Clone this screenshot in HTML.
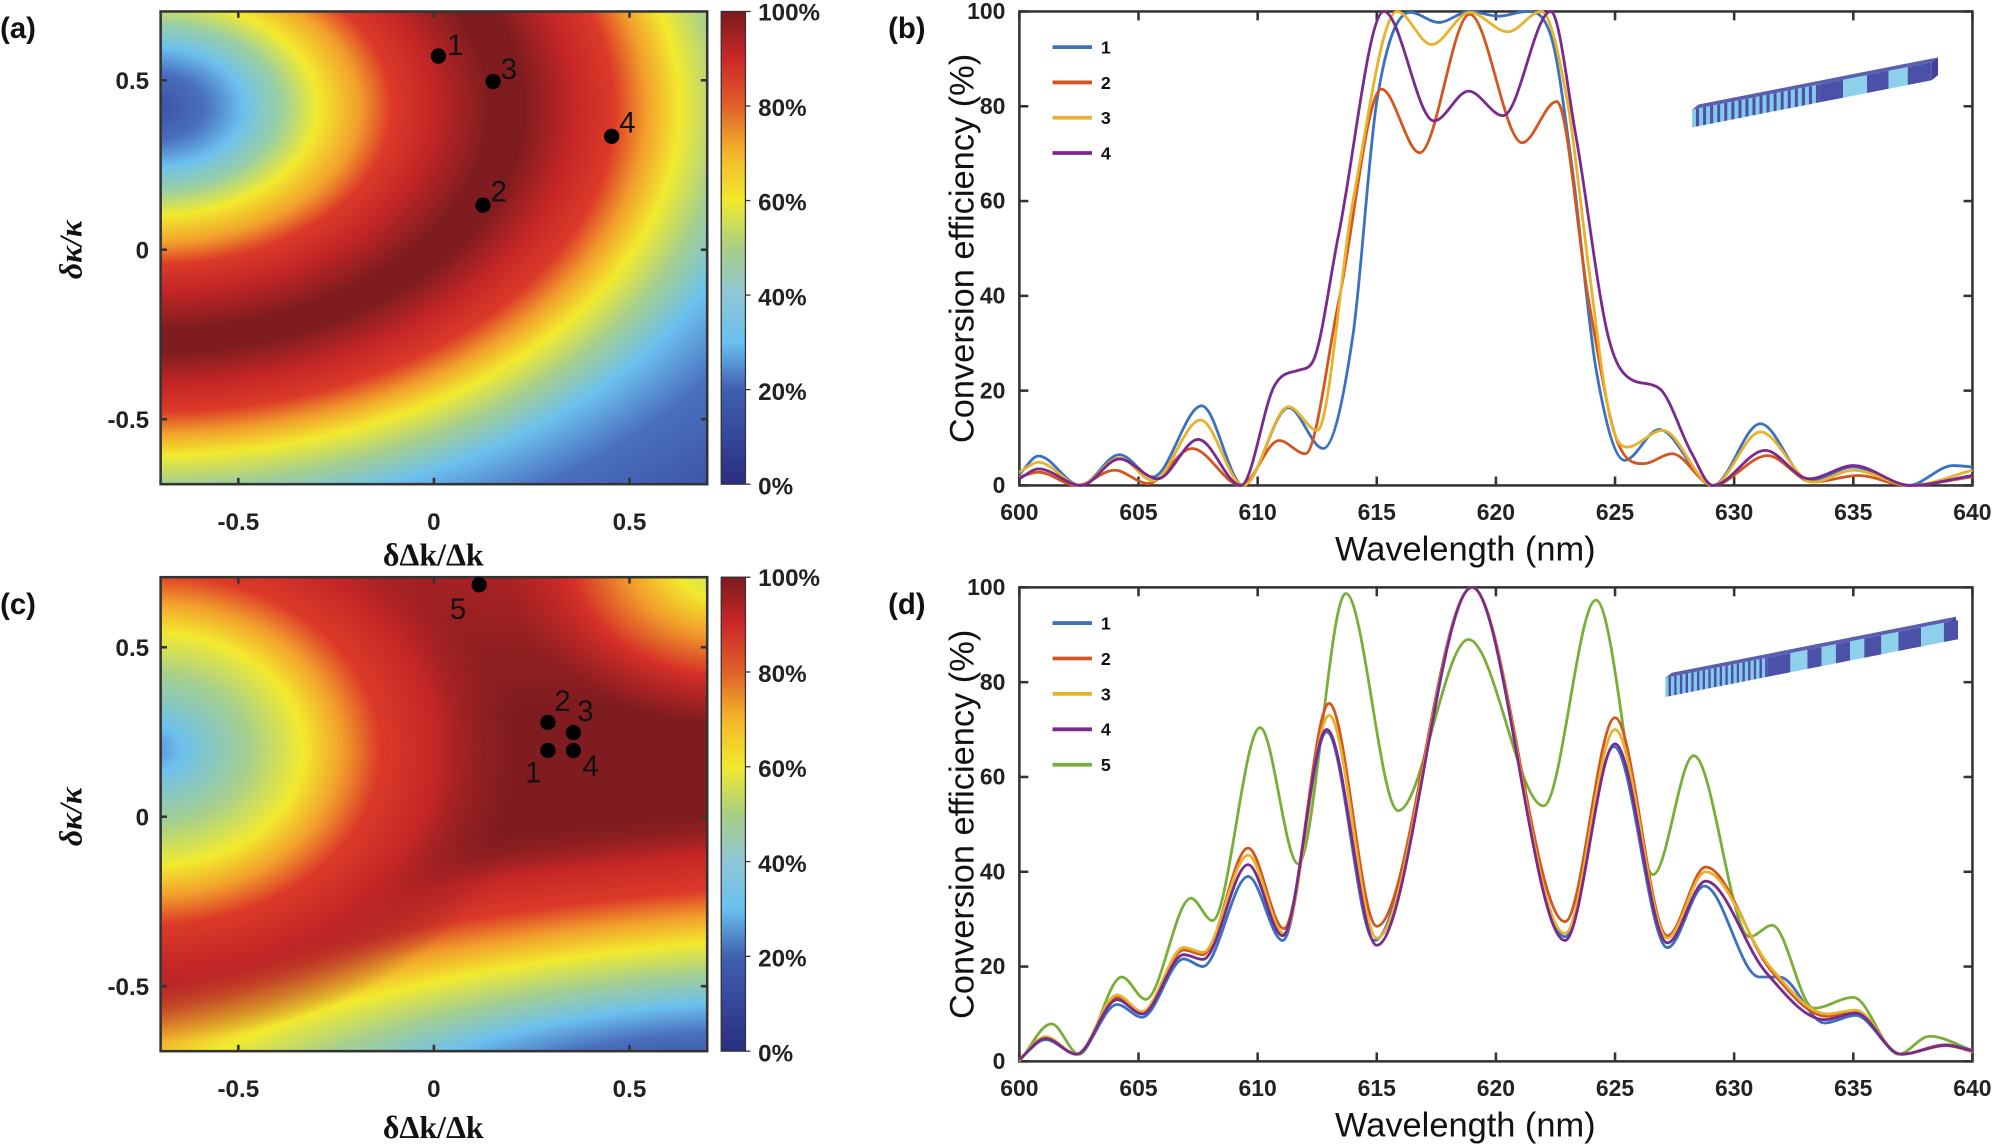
<!DOCTYPE html>
<html><head><meta charset="utf-8">
<style>
html,body{margin:0;padding:0;background:#fff;}
svg{display:block;}
.tk{font-family:"Liberation Sans",sans-serif;font-weight:bold;fill:#222;}
.al{font-family:"Liberation Sans",sans-serif;font-size:27px;fill:#111;}
.ml{font-family:"Liberation Serif",serif;font-weight:bold;font-size:25px;fill:#111;}
.pl{font-family:"Liberation Sans",sans-serif;font-weight:bold;font-size:23px;fill:#111;}
.lg{font-family:"Liberation Sans",sans-serif;font-weight:bold;font-size:14px;fill:#111;}
.mk{font-family:"Liberation Sans",sans-serif;font-size:23px;fill:#111;}
</style></head>
<body>
<svg id="s" width="1998" height="1148" viewBox="0 0 1568 901" xmlns="http://www.w3.org/2000/svg">
<defs>
<clipPath id="ca"><rect x="126" y="9" width="429" height="371"/></clipPath>
<clipPath id="cc"><rect x="126" y="453" width="429" height="372"/></clipPath>
<radialGradient id="ga" gradientUnits="userSpaceOnUse" cx="0" cy="0" r="1" gradientTransform="translate(120,84) scale(646,427)">
<stop offset="0" stop-color="#3a4fa3"/><stop offset="0.0625" stop-color="#4a6fbf"/>
<stop offset="0.11" stop-color="#6cc0ee"/><stop offset="0.156" stop-color="#9cd0a0"/>
<stop offset="0.2" stop-color="#f2ea2e"/><stop offset="0.25" stop-color="#f2a02c"/>
<stop offset="0.29" stop-color="#dc3a28"/><stop offset="0.34" stop-color="#c42626"/>
<stop offset="0.41" stop-color="#7e1c1f"/><stop offset="0.45" stop-color="#7e1c1f"/>
<stop offset="0.51" stop-color="#c42626"/><stop offset="0.56" stop-color="#dc3a28"/>
<stop offset="0.6" stop-color="#f2a02c"/><stop offset="0.64" stop-color="#f2ea2e"/>
<stop offset="0.69" stop-color="#a8d08c"/><stop offset="0.75" stop-color="#6cc0ee"/>
<stop offset="0.84" stop-color="#4a6fbf"/><stop offset="1" stop-color="#3a4fa3"/>
</radialGradient>
<radialGradient id="gc1" gradientUnits="userSpaceOnUse" cx="0" cy="0" r="1" gradientTransform="translate(118,588) scale(300,230)">
<stop offset="0" stop-color="#5a88cc"/><stop offset="0.08" stop-color="#6cc0ee"/>
<stop offset="0.26" stop-color="#a8d08c"/><stop offset="0.4" stop-color="#f2ea2e"/>
<stop offset="0.5" stop-color="#f2a02c"/><stop offset="0.6" stop-color="#dc3a28"/>
<stop offset="0.75" stop-color="#c42626"/><stop offset="1" stop-color="#7e1c1f" stop-opacity="0"/>
</radialGradient>
<radialGradient id="gc2" gradientUnits="userSpaceOnUse" cx="0" cy="0" r="1" gradientTransform="translate(520,842) rotate(-6) scale(860,205)">
<stop offset="0" stop-color="#3a4fa3"/><stop offset="0.14" stop-color="#4a6fbf"/>
<stop offset="0.25" stop-color="#6cc0ee"/><stop offset="0.37" stop-color="#a8d08c"/>
<stop offset="0.48" stop-color="#f2ea2e"/><stop offset="0.58" stop-color="#f2a02c"/>
<stop offset="0.68" stop-color="#dc3a28"/><stop offset="0.82" stop-color="#c42626"/>
<stop offset="1" stop-color="#7e1c1f" stop-opacity="0"/>
</radialGradient>
<radialGradient id="gc3" gradientUnits="userSpaceOnUse" cx="0" cy="0" r="1" gradientTransform="translate(575,440) scale(180,130)">
<stop offset="0" stop-color="#a8d08c"/><stop offset="0.25" stop-color="#f2ea2e"/>
<stop offset="0.45" stop-color="#f2a02c"/><stop offset="0.7" stop-color="#d63028"/>
<stop offset="1" stop-color="#c42626" stop-opacity="0"/>
</radialGradient>
<linearGradient id="gct" x1="0" y1="453" x2="0" y2="560" gradientUnits="userSpaceOnUse">
<stop offset="0" stop-color="#b42424" stop-opacity="0.8"/><stop offset="1" stop-color="#b42424" stop-opacity="0"/>
</linearGradient>
<linearGradient id="cb" x1="0" y1="1" x2="0" y2="0">
<stop offset="0" stop-color="#2a2e80"/><stop offset="0.2" stop-color="#4060b0"/>
<stop offset="0.3" stop-color="#69c0ee"/><stop offset="0.4" stop-color="#8fc6d8"/>
<stop offset="0.5" stop-color="#a8cf84"/><stop offset="0.6" stop-color="#f2e92d"/>
<stop offset="0.7" stop-color="#f3b62c"/><stop offset="0.8" stop-color="#e0602a"/>
<stop offset="0.9" stop-color="#cc2828"/><stop offset="1" stop-color="#7a1a1e"/>
</linearGradient>
</defs>

<g clip-path="url(#ca)"><rect x="126" y="9" width="429" height="371" fill="url(#ga)"/></g>
<rect x="126" y="9" width="429" height="371" fill="none" stroke="#333" stroke-width="2"/>
<g clip-path="url(#cc)">
<rect x="126" y="453" width="429" height="372" fill="#7e1c1f"/>
<rect x="126" y="453" width="429" height="372" fill="url(#gct)"/>
<rect x="126" y="453" width="429" height="372" fill="url(#gc2)"/>
<rect x="126" y="453" width="429" height="372" fill="url(#gc1)"/>
<rect x="126" y="453" width="429" height="372" fill="url(#gc3)"/>
</g>
<rect x="126" y="453" width="429" height="372" fill="none" stroke="#333" stroke-width="2"/>

<rect x="566" y="9" width="19" height="371" fill="url(#cb)" stroke="#333" stroke-width="1"/>
<rect x="566" y="453" width="19" height="372" fill="url(#cb)" stroke="#333" stroke-width="1"/>

<g id="ticks"></g>

<g fill="#000">
<circle cx="344" cy="44" r="6"/><circle cx="387" cy="64" r="6"/><circle cx="480" cy="107" r="6"/><circle cx="379" cy="161" r="6"/>
<circle cx="376" cy="459" r="6"/><circle cx="430" cy="567" r="6"/><circle cx="450" cy="575" r="6"/><circle cx="430" cy="589" r="6"/><circle cx="450" cy="589" r="6"/>
</g>
<text class="mk" x="351" y="43">1</text><text class="mk" x="393" y="62">3</text>
<text class="mk" x="486" y="104">4</text><text class="mk" x="385" y="158">2</text>
<text class="mk" x="353" y="486">5</text><text class="mk" x="435" y="558">2</text>
<text class="mk" x="453" y="566">3</text><text class="mk" x="412" y="614">1</text>
<text class="mk" x="457" y="609">4</text>

<text class="pl" x="0" y="30">(a)</text>
<text class="pl" x="0" y="482">(c)</text>
<text class="pl" x="697" y="30">(b)</text>
<text class="pl" x="697" y="482">(d)</text>

<text class="ml" x="340" y="444" text-anchor="middle">δΔk/Δk</text>
<text class="ml" x="340" y="893" text-anchor="middle">δΔk/Δk</text>
<text class="ml" transform="translate(64,196) rotate(-90)" text-anchor="middle" font-style="italic">δκ/κ</text>
<text class="ml" transform="translate(64,641) rotate(-90)" text-anchor="middle" font-style="italic">δκ/κ</text>

<rect x="800" y="9" width="748" height="372" fill="none" stroke="#333" stroke-width="2"/>
<rect x="800" y="461" width="748" height="372" fill="none" stroke="#333" stroke-width="2"/>
<text class="al" x="1150" y="440" text-anchor="middle">Wavelength (nm)</text>
<text class="al" x="1150" y="892" text-anchor="middle">Wavelength (nm)</text>
<text class="al" transform="translate(764,195) rotate(-90)" text-anchor="middle">Conversion efficiency (%)</text>
<text class="al" transform="translate(764,647) rotate(-90)" text-anchor="middle">Conversion efficiency (%)</text>

<g id="curves"></g>
<g id="bars"></g>
<g id="legend"></g>
</svg>
<script>
var NS="http://www.w3.org/2000/svg";
function el(p,t,a,txt){var e=document.createElementNS(NS,t);for(var k in a)e.setAttribute(k,a[k]);if(txt!=null)e.textContent=txt;document.getElementById(p).appendChild(e);return e;}
function hmTicks(top,bot,y0px){
  var xs=[[-0.5,187],[0,340.5],[0.5,494]];
  xs.forEach(function(v){el('ticks','line',{x1:v[1],y1:bot,x2:v[1],y2:bot-5,stroke:'#333','stroke-width':2});el('ticks','line',{x1:v[1],y1:top,x2:v[1],y2:top+5,stroke:'#333','stroke-width':2});
    el('ticks','text',{'class':'tk',x:v[1],y:bot+36,'text-anchor':'middle','font-size':19},v[0]);});
  [[0.5,y0px-133],[0,y0px],[-0.5,y0px+133]].forEach(function(v){el('ticks','line',{x1:126,y1:v[1],x2:131,y2:v[1],stroke:'#333','stroke-width':2});el('ticks','line',{x1:555,y1:v[1],x2:550,y2:v[1],stroke:'#333','stroke-width':2});
    el('ticks','text',{'class':'tk',x:117,y:v[1]+7,'text-anchor':'end','font-size':19},v[0]);});
  for(var i=0;i<=5;i++){var y=bot-(bot-top)*i/5;
    el('ticks','line',{x1:585,y1:y,x2:589,y2:y,stroke:'#333','stroke-width':1});
    el('ticks','text',{'class':'tk',x:595,y:y+8+(i==5?-1:0),'font-size':19},(i*20)+'%');}
}
hmTicks(9,380,196);hmTicks(453,825,641);
function lpTicks(top,bot){
  for(var i=0;i<=8;i++){var x=800+i*93.5;
    el('ticks','line',{x1:x,y1:bot,x2:x,y2:bot-7,stroke:'#333','stroke-width':2});
    el('ticks','line',{x1:x,y1:top,x2:x,y2:top+7,stroke:'#333','stroke-width':2});
    el('ticks','text',{'class':'tk',x:x,y:bot+27,'text-anchor':'middle','font-size':18},600+5*i);}
  for(var j=0;j<=5;j++){var y=bot-j*74.4;
    el('ticks','line',{x1:800,y1:y,x2:807,y2:y,stroke:'#333','stroke-width':2});
    el('ticks','line',{x1:1548,y1:y,x2:1541,y2:y,stroke:'#333','stroke-width':2});
    el('ticks','text',{'class':'tk',x:789,y:y+6,'text-anchor':'end','font-size':18},j*20);}
}
lpTicks(9,381);lpTicks(461,833);
function path(pts,bot){
  var n=pts.length,X=pts.map(function(p){return 800+(p[0]-600)*18.7;}),Y=pts.map(function(p){return bot-p[1]*3.72;});
  var d=[],m=[];for(var i=0;i<n-1;i++)d.push((Y[i+1]-Y[i])/(X[i+1]-X[i]));
  m[0]=d[0];m[n-1]=d[n-2];
  for(i=1;i<n-1;i++){m[i]=(d[i-1]*d[i]<=0)?0:(d[i-1]+d[i])/2;}
  for(i=0;i<n-1;i++){if(d[i]==0){m[i]=0;m[i+1]=0;continue;}var a=m[i]/d[i],b=m[i+1]/d[i],s=a*a+b*b;if(s>9){var t=3/Math.sqrt(s);m[i]=t*a*d[i];m[i+1]=t*b*d[i];}}
  var s='M'+X[0].toFixed(1)+','+Y[0].toFixed(1);
  for(i=0;i<n-1;i++){var h=(X[i+1]-X[i])/3;
    s+='C'+(X[i]+h).toFixed(1)+','+(Y[i]+m[i]*h).toFixed(1)+' '+(X[i+1]-h).toFixed(1)+','+(Y[i+1]-m[i+1]*h).toFixed(1)+' '+X[i+1].toFixed(1)+','+Y[i+1].toFixed(1);}
  return s;
}
var C={1:'#3a72c0',2:'#d4561f',3:'#e8b22c',4:'#7a2a8e',5:'#7aae3a'};
var B={
4:[[600,1.4],[600.8,3.5],[602.6,0],[604.2,5.6],[605.8,1.4],[607.5,9.7],[609.3,0],[610.7,21],[611.7,24.3],[612.3,26],[613.4,53],[615.3,100],[617.4,76.9],[618.85,83.2],[620.3,78],[622.3,100],[623.35,74],[624.7,31.7],[625.6,22.6],[626.85,20.5],[628.2,7],[629.1,0],[631.3,7.4],[633.15,1.4],[635,4.2],[637.4,0],[640,2.1]],
2:[[600,1.8],[600.8,2.8],[602.4,0],[604,3.2],[605.4,0.4],[607.25,7.8],[609.3,0],[610.9,9.5],[612,6.7],[613.4,38.8],[615.2,83.6],[616.8,70.2],[618.9,99.4],[621.1,72.3],[622.55,81],[623.9,38.8],[625.1,9.2],[626.2,4.6],[627.4,6.7],[629.1,0],[631.4,6.3],[633.3,0.7],[635.2,2.1],[637.3,0],[640,1.8]],
3:[[600,2.8],[600.8,4.9],[602.55,0],[604.2,5.8],[605.6,1],[607.6,13.8],[609.4,0],[611.3,16.6],[612.5,11.6],[614,60],[615.85,100],[617.3,93],[618.9,99.8],[620.5,95.7],[621.9,100],[623,81],[623.9,45.8],[624.8,14],[625.5,8.1],[627,11.6],[629.1,0],[631.1,11.3],[633.3,0.7],[635,3.2],[637.4,0],[640,3.2]],
1:[[600,2.3],[600.8,6.2],[602.55,0],[604.2,6.5],[605.6,1.8],[607.65,16.8],[609.4,0],[611.3,16.4],[612.75,7.8],[614,31.7],[615,81],[616.4,99.8],[617.6,97.7],[618.9,100],[620.1,99],[621.3,100],[622.3,95],[623.2,67],[624.2,24.7],[625.4,5.3],[626.85,11.8],[629.1,0],[631.1,13],[633.15,1],[635,3.9],[637.3,0],[639.2,4.2],[640,3.9]]
};
var D={
5:[[600,0],[601.35,7.9],[602.5,1.5],[604.3,17.8],[605.3,13.1],[607.2,34.4],[608.1,29.7],[610.1,70.4],[611.7,41.7],[613.7,98.7],[615.9,52.9],[618.85,89],[622,53.9],[624.2,97.3],[626.6,39.4],[628.3,64.5],[630.65,26.3],[631.6,28.7],[633.35,11.2],[635,13.5],[636.9,1.5],[638.2,5.3],[640,2.3]],
2:[[600,0.4],[601.1,5],[602.4,1.5],[604.1,13.5],[605.15,10.5],[606.9,23.5],[607.7,22.5],[609.6,45],[611.1,28],[613,75.5],[615,28.5],[619,100],[622.9,29.5],[625,72.5],[627.2,26.5],[628.8,41],[631.5,19.5],[633.9,9.5],[635.1,10.5],[637,1.5],[638.9,3.5],[640,2]],
3:[[600,0.4],[601.1,5.2],[602.4,1.5],[604.1,14],[605.15,10.5],[606.9,24],[607.7,23],[609.6,43.5],[611.1,27],[613,73],[615,26],[619,100],[622.9,27],[625,70],[627.2,26],[628.8,40],[631.5,20],[633.9,10],[635.1,10.8],[637,1.5],[638.9,3.3],[640,2]],
1:[[600,0.4],[601.1,4.6],[602.4,1.5],[604.1,12],[605.15,9.3],[606.9,21.6],[607.7,20],[609.6,39],[611.05,25.5],[612.9,69.5],[614.9,25.5],[619,100],[622.9,26.3],[624.95,66.4],[627.2,24],[628.75,37],[631.05,17.8],[631.9,17.8],[633.8,8.1],[635.1,9.7],[637,1.5],[638.9,3.5],[640,2.3]],
4:[[600,0.4],[601.1,4.8],[602.4,1.5],[604.1,13],[605.15,10],[606.9,22.5],[607.7,21.5],[609.6,41.5],[611.05,26.5],[612.9,70],[615,24.5],[619,100],[622.9,25.5],[625,67],[627.2,25],[628.8,38],[631.3,19],[633.8,8.8],[635.1,10.2],[637,1.5],[638.9,3.4],[640,2.2]]
};
[1,2,3,4].forEach(function(k){el('curves','path',{d:path(B[k],381),fill:'none',stroke:C[k],'stroke-width':2.2});});
[5,1,2,3,4].forEach(function(k){el('curves','path',{d:path(D[k],833),fill:'none',stroke:C[k],'stroke-width':2.2});});
function leg(y0,n,dy){for(var i=1;i<=n;i++){var y=y0+(i-1)*dy;
  el('legend','line',{x1:826,y1:y,x2:857,y2:y,stroke:C[i],'stroke-width':3});
  el('legend','text',{'class':'lg',x:864,y:y+5},i);}}
leg(37,4,27.7);leg(489,5,27.8);
function bar(x0,y0,x1,y1,h,segs){
  var dx=x1-x0,dy=y1-y0;
  function P(t){return [x0+dx*t,y0+dy*t];}
  var a=P(0),b=P(1);
  el('bars','polygon',{points:[a[0]+5,a[1]-h-4,b[0]+5,b[1]-h-4,b[0],b[1]-h,a[0],a[1]-h].join(' '),fill:'#5a5fb0'});
  el('bars','polygon',{points:[b[0],b[1],b[0]+5,b[1]-4,b[0]+5,b[1]-h-4,b[0],b[1]-h].join(' '),fill:'#3e4398'});
  segs.forEach(function(s){var p=P(s[0]),q=P(s[1]);
    el('bars','polygon',{points:[p[0],p[1],q[0],q[1],q[0],q[1]-h,p[0],p[1]-h].join(' '),fill:s[2]});});
}
function segsFor(split,nfine,coarse){
  var s=[],w=split/nfine;for(var i=0;i<nfine;i++)s.push([i*w,(i+0.55)*w,'#7fcbe8'],[(i+0.55)*w,(i+1)*w,'#4b50a8']);
  var t=split;coarse.forEach(function(c){s.push([t,t+c[0],c[1]]);t+=c[0];});return s;}
var LB='#8dd0ea',DB='#4b50a8';
bar(1328,100,1516,63,14,segsFor(0.53,18,[[0.1,DB],[0.1,LB],[0.09,DB],[0.08,LB],[0.1,DB]]));
bar(1307,547,1530,503,15,segsFor(0.36,18,[[0.08,DB],[0.06,LB],[0.05,DB],[0.05,LB],[0.05,DB],[0.05,LB],[0.06,DB],[0.06,LB],[0.08,DB],[0.08,LB],[0.05,DB]]));
</script>
</body></html>
